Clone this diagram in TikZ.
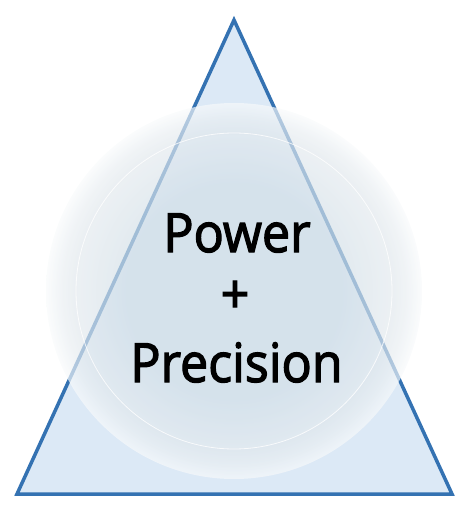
\documentclass[tikz,border=0pt]{standalone}
\usepackage{fontspec}
\setmainfont{Open Sans}
\newfontfamily\wordfont{Open Sans}[FakeBold=2.4]
\usetikzlibrary{calc}
\definecolor{triblue}{RGB}{52,114,178}
\definecolor{trifill}{RGB}{220,233,246}
\definecolor{disccore}{RGB}{210,223,231}
\definecolor{discrim}{RGB}{226,233,238}
\definecolor{ringin}{RGB}{224,231,236}
\definecolor{ringout}{RGB}{248,250,251}
\pgfdeclareradialshading{glowdisc}{\pgfpoint{0bp}{0bp}}{color(0bp)=(disccore); color(14bp)=(disccore); color(20.8bp)=(discrim); color(21bp)=(ringin); color(23bp)=(ringin!60!ringout); color(25bp)=(ringout); color(50bp)=(ringout)}
\tikzset{word/.style={font=\wordfont\fontsize{54}{54}\selectfont, inner sep=0pt, xscale=0.93}}

\begin{document}
\begin{tikzpicture}[x=1pt, y=-1pt]
			\useasboundingbox (0,0) rectangle (474,508);

			% Draw the triangle
			\coordinate (apex) at (234,20);
			\coordinate (left) at (17,494);
			\coordinate (right) at (452,494);
			\draw[color=triblue, fill=trifill, line width=3.5pt, line join=miter] (apex) -- (left) -- (right) -- cycle;

			% Draw the glowing circle on top
			\coordinate (centre) at (234,291);
			\shade[shading=glowdisc, opacity=0.68] (centre) circle[radius=188];
			\draw[color=white, opacity=0.8, line width=0.8pt] (centre) circle[radius=158];

			% Put the words
			\node[word, anchor=base] (power) at (237,252) {Power};
			\node[word] (plus) at (235,297) {+};
			\node[word, anchor=base] (precision) at (236.5,382) {Precision};
		\end{tikzpicture}
\end{document}
